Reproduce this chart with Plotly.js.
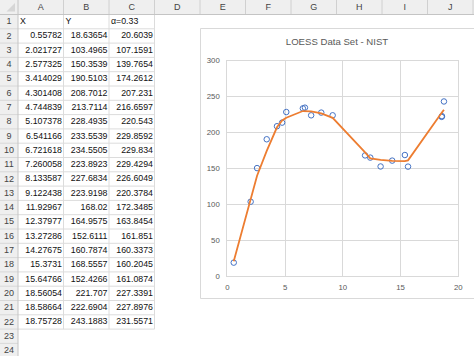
<!DOCTYPE html>
<html><head><meta charset="utf-8">
<script src="https://cdn.plot.ly/plotly-3.0.1.min.js"></script>
<style>html,body{margin:0;padding:0;background:#fff}#chart{width:474px;height:356px}</style>
</head><body><div id="chart"></div>
<script>
// ---------- data ----------
const colLetters = ['A','B','C','D','E','F','G','H','I','J'];
const headerLabels = ['X','Y','α=0.33'];
const xValues = [0.55782, 2.021727, 2.577325, 3.414029, 4.301408, 4.744839, 5.107378, 6.541166, 6.721618, 7.260058, 8.133587, 9.122438, 11.92967, 12.37977, 13.27286, 14.27675, 15.3731, 15.64766, 18.56054, 18.58664, 18.75728];
const yValues = [18.63654, 103.4965, 150.3539, 190.5103, 208.7012, 213.7114, 228.4935, 233.5539, 234.5505, 223.8923, 227.6834, 223.9198, 168.02, 164.9575, 152.6111, 160.7874, 168.5557, 152.4266, 221.707, 222.6904, 243.1883];
const fitValues = [20.6039, 107.1591, 139.7654, 174.2612, 207.231, 216.6597, 220.543, 229.8592, 229.834, 229.4294, 226.6049, 220.3784, 172.3485, 163.8454, 161.851, 160.3373, 160.2045, 161.0874, 227.3391, 227.8976, 231.5571];
const xTicks = [0, 5, 10, 15, 20];
const yTicks = [0, 50, 100, 150, 200, 250, 300];
const chartTitle = 'LOESS Data Set - NIST';
const rowCount = 24;

// ---------- sheet geometry (pixel space) ----------
const W = 474, H = 356;
const rowHdrW = 18, colW = 45.5, hdrH = 14.5, rowH = 14.3;
const FONT = 'Liberation Sans, Arial, sans-serif';
const colLeft = i => rowHdrW + i * colW;
const rowTop = r => hdrH + (r - 1) * rowH; // r = 1-based row
const rowMid = r => rowTop(r) + rowH / 2;

const shapes = [];
const px = (o) => Object.assign({xref: 'x2', yref: 'y2', layer: 'below'}, o);
// header backgrounds
shapes.push(px({type: 'rect', x0: 0, x1: W + 2, y0: 0, y1: hdrH, fillcolor: '#efefef', line: {width: 0}}));
shapes.push(px({type: 'rect', x0: 0, x1: rowHdrW, y0: 0, y1: H + 2, fillcolor: '#efefef', line: {width: 0}}));
// header column separators
for (let i = 1; i <= colLetters.length; i++) {
  shapes.push(px({type: 'line', x0: colLeft(i), x1: colLeft(i), y0: 0, y1: hdrH, line: {color: '#d0d0d0', width: 1}}));
}
// row header separators
for (let r = 1; r <= rowCount; r++) {
  shapes.push(px({type: 'line', x0: 0, x1: rowHdrW, y0: rowTop(r) + rowH, y1: rowTop(r) + rowH, line: {color: '#d8d8d8', width: 1}}));
}
// data cell borders (A1:C22)
const nData = xValues.length + 1;
for (let r = 1; r <= nData; r++) {
  shapes.push(px({type: 'line', x0: rowHdrW, x1: colLeft(3), y0: rowTop(r) + rowH, y1: rowTop(r) + rowH, line: {color: '#dcdcdc', width: 1}}));
}
for (let i = 1; i <= 3; i++) {
  shapes.push(px({type: 'line', x0: colLeft(i), x1: colLeft(i), y0: hdrH, y1: rowTop(nData) + rowH, line: {color: '#dcdcdc', width: 1}}));
}
// header borders
shapes.push(px({type: 'line', x0: 0, x1: W + 2, y0: hdrH, y1: hdrH, line: {color: '#c4c4c4', width: 1}}));
shapes.push(px({type: 'line', x0: rowHdrW, x1: rowHdrW, y0: 0, y1: H + 2, line: {color: '#c4c4c4', width: 1}}));
// select-all triangle
shapes.push(px({type: 'path', path: 'M 15 3 L 15 11.5 L 6.5 11.5 Z', fillcolor: '#d6d6d6', line: {width: 0}}));
// chart box
shapes.push({type: 'rect', xref: 'paper', yref: 'paper', layer: 'below',
  x0: 200.5 / W, x1: (W + 3) / W, y0: 1 - 298.5 / H, y1: 1 - 28.5 / H,
  fillcolor: 'rgba(0,0,0,0)', line: {color: '#d9d9d9', width: 1}});

// ---------- sheet texts ----------
const traces = [];
// column letters
traces.push({type: 'scatter', mode: 'text', xaxis: 'x2', yaxis: 'y2', hoverinfo: 'skip', showlegend: false,
  x: colLetters.map((c, i) => colLeft(i) + colW / 2), y: colLetters.map(() => hdrH / 2 + 0.3),
  text: colLetters, textposition: 'middle center', textfont: {family: FONT, size: 9, color: '#444'}});
// row numbers
const rowNums = Array.from({length: rowCount}, (_, i) => String(i + 1));
traces.push({type: 'scatter', mode: 'text', xaxis: 'x2', yaxis: 'y2', hoverinfo: 'skip', showlegend: false,
  x: rowNums.map(() => rowHdrW / 2), y: rowNums.map((_, i) => rowMid(i + 1) + 0.3),
  text: rowNums, textposition: 'middle center', textfont: {family: FONT, size: 9, color: '#444'}});
// row-1 labels
traces.push({type: 'scatter', mode: 'text', xaxis: 'x2', yaxis: 'y2', hoverinfo: 'skip', showlegend: false,
  x: headerLabels.map((_, i) => colLeft(i) + 2), y: headerLabels.map(() => rowMid(1) + 0.3),
  text: headerLabels, textposition: 'middle right', textfont: {family: FONT, size: 8.8, color: '#111'}});
// numeric columns
[xValues, yValues, fitValues].forEach((arr, ci) => {
  traces.push({type: 'scatter', mode: 'text', xaxis: 'x2', yaxis: 'y2', hoverinfo: 'skip', showlegend: false,
    x: arr.map(() => colLeft(ci + 1) - 1.5), y: arr.map((_, i) => rowMid(i + 2) + 0.3),
    text: arr.map(v => String(v)), textposition: 'middle left', textfont: {family: FONT, size: 8.8, color: '#111'}});
});

// ---------- chart traces ----------
traces.push({type: 'scatter', mode: 'markers', x: xValues, y: yValues, xaxis: 'x', yaxis: 'y', showlegend: false,
  marker: {symbol: 'circle-open', size: 5.5, color: '#4472C4', line: {width: 1, color: '#4472C4'}}});
traces.push({type: 'scatter', mode: 'lines', x: xValues, y: fitValues, xaxis: 'x', yaxis: 'y', showlegend: false,
  line: {color: '#ED7D31', width: 1.8}});

const axStyle = {showgrid: true, gridcolor: '#d9d9d9', gridwidth: 1, zeroline: false, showline: true, mirror: true,
  linecolor: '#d9d9d9', linewidth: 1, ticks: '', fixedrange: true,
  tickfont: {family: FONT, size: 7.8, color: '#595959'}};

const layout = {
  width: W, height: H, margin: {l: 0, r: 0, t: 0, b: 0, pad: 0},
  paper_bgcolor: '#ffffff', plot_bgcolor: 'rgba(0,0,0,0)', showlegend: false,
  title: {text: chartTitle, x: 337 / W, xref: 'paper', y: 1 - 42 / H, yref: 'paper', xanchor: 'center', yanchor: 'middle',
    font: {family: FONT, size: 9.6, color: '#595959'}},
  xaxis: Object.assign({}, axStyle, {domain: [227.3 / W, 458.3 / W], range: [0, 20], tickvals: xTicks, anchor: 'y', ticklabelstandoff: 4}),
  yaxis: Object.assign({}, axStyle, {domain: [80 / H, 295.3 / H], range: [0, 300], tickvals: yTicks, anchor: 'x', ticklabelstandoff: 5}),
  xaxis2: {domain: [0, 1], range: [0, W], visible: false, fixedrange: true, anchor: 'y2'},
  yaxis2: {domain: [0, 1], range: [H, 0], visible: false, fixedrange: true, anchor: 'x2'},
  shapes: shapes
};

Plotly.newPlot('chart', traces, layout, {displayModeBar: false, staticPlot: true});
</script></body></html>
